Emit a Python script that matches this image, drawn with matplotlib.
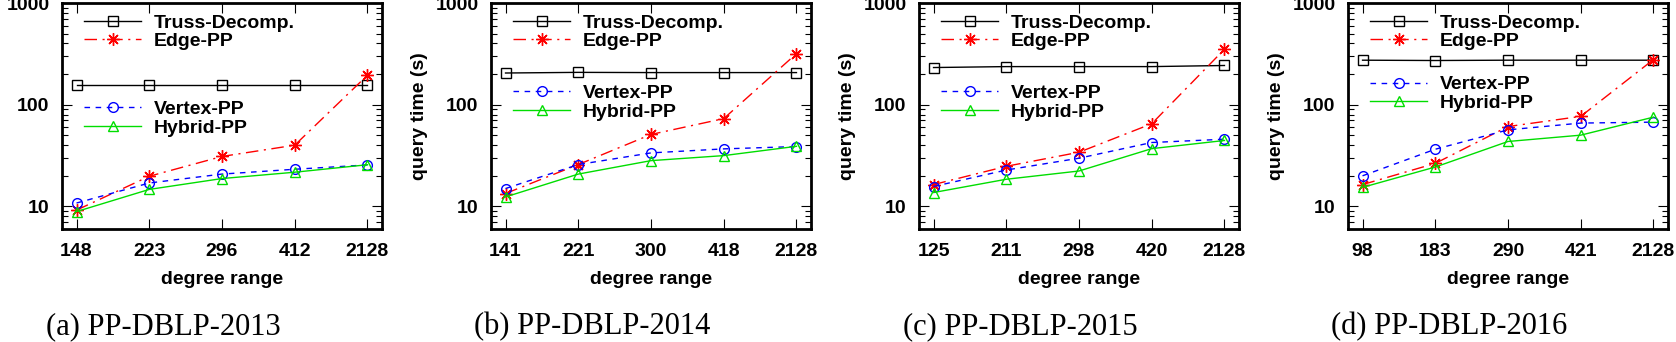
import matplotlib
matplotlib.use("Agg")
import matplotlib.pyplot as plt
from matplotlib.ticker import LogLocator, NullFormatter, FixedLocator

plt.rcParams["font.family"] = "Liberation Sans"
plt.rcParams["font.weight"] = "bold"

# Data (query time in seconds)
captions = ["(a) PP-DBLP-2013", "(b) PP-DBLP-2014", "(c) PP-DBLP-2015", "(d) PP-DBLP-2016"]
degree_labels = [
    ["148", "223", "296", "412", "2128"],
    ["141", "221", "300", "418", "2128"],
    ["125", "211", "298", "420", "2128"],
    ["98", "183", "290", "421", "2128"],
]
truss = [
    [158, 158, 158, 158, 158],
    [205, 208, 207, 207, 207],
    [232, 237, 237, 237, 243],
    [274, 272, 274, 274, 274],
]
edge_pp = [
    [9.2, 19.8, 31, 40, 195],
    [13.4, 25.8, 51, 73, 318],
    [16.4, 24.8, 34.1, 65, 351],
    [16.4, 26.5, 61, 76.8, 278],
]
vertex_pp = [
    [10.8, 17, 20.8, 23.2, 25.6],
    [15, 25.8, 33.6, 36.8, 38.8],
    [15.7, 22.8, 29.8, 42.5, 45.8],
    [20, 36.5, 56.6, 66, 67.4],
]
hybrid_pp = [
    [8.9, 14.7, 18.8, 21.7, 25.7],
    [12.4, 20.8, 28.2, 31.6, 39],
    [13.7, 18.5, 22.3, 37, 44.5],
    [15.4, 24.4, 43.5, 50.2, 75.5],
]

# Layout (figure pixels)
W, H = 1676, 342
ax_lefts = [62, 491, 919, 1348]
ax_w, ax_top, ax_bot = 320, 3, 229
caption_x = [163, 592, 1020, 1449]
legend2_y = [0.489, 0.56, 0.56, 0.598]

GREEN = "#00dd00"
fig = plt.figure(figsize=(W / 100, H / 100), dpi=100)

for i in range(4):
    ax = fig.add_axes([ax_lefts[i] / W, 1 - ax_bot / H, ax_w / W, (ax_bot - ax_top) / H])
    x = list(range(len(degree_labels[i])))
    ms = 7
    l_truss, = ax.plot(x, truss[i], color="black", lw=1.0, marker="s", ms=ms,
                       mfc="none", mew=1.0, label="Truss-Decomp.")
    l_edge, = ax.plot(x, edge_pp[i], color="red", lw=1.0, dashes=(9, 4, 1.5, 4),
                      marker=(8, 2, 0), ms=ms + 2, mew=1.0, label="Edge-PP")
    l_vert, = ax.plot(x, vertex_pp[i], color="blue", lw=1.0, dashes=(4, 4),
                      marker="o", ms=ms, mfc="none", mew=1.0, label="Vertex-PP")
    l_hyb, = ax.plot(x, hybrid_pp[i], color=GREEN, lw=1.0, marker="^", ms=ms,
                     mfc="none", mew=1.0, label="Hybrid-PP")

    ax.set_yscale("log")
    ax.set_ylim(6, 1000)
    ax.set_xlim(-0.2, len(x) - 1 + 0.2)
    ax.yaxis.set_major_locator(FixedLocator([10, 100, 1000]))
    ax.yaxis.set_minor_locator(LogLocator(base=10, subs=range(2, 10)))
    ax.yaxis.set_minor_formatter(NullFormatter())
    ax.set_yticklabels(["10", "100", "1000"])
    ax.set_xticks(x)
    ax.set_xticklabels(degree_labels[i])
    ax.tick_params(axis="both", which="major", direction="in", length=7, width=0.8,
                   labelsize=14, top=True, right=True)
    ax.tick_params(axis="y", which="minor", direction="in", length=4, width=0.8,
                   right=True)
    ax.tick_params(axis="x", pad=10)
    ax.tick_params(axis="y", pad=9)
    for s in ax.spines.values():
        s.set_linewidth(2.0)

    ax.set_xlabel("degree range", fontsize=14, fontweight="bold", labelpad=8)
    ax.set_ylabel("query time (s)", fontsize=14, fontweight="bold", labelpad=5)

    # two legend groups, as in the gnuplot original
    leg_kw = dict(loc="center left", frameon=False, fontsize=14, borderpad=0,
                  borderaxespad=0, handlelength=2.9, handletextpad=0.65,
                  labelspacing=0.05, numpoints=1)
    leg1 = ax.legend(handles=[l_truss, l_edge], bbox_to_anchor=(0.07, 0.871), **leg_kw)
    ax.add_artist(leg1)
    ax.legend(handles=[l_vert, l_hyb], bbox_to_anchor=(0.07, legend2_y[i]), **leg_kw)

    fig.text(caption_x[i] / W, 1 - 327 / H, captions[i], family="Liberation Serif",
             fontweight="normal", fontsize=22, ha="center", va="center")

fig.savefig("out.png", dpi=100)
